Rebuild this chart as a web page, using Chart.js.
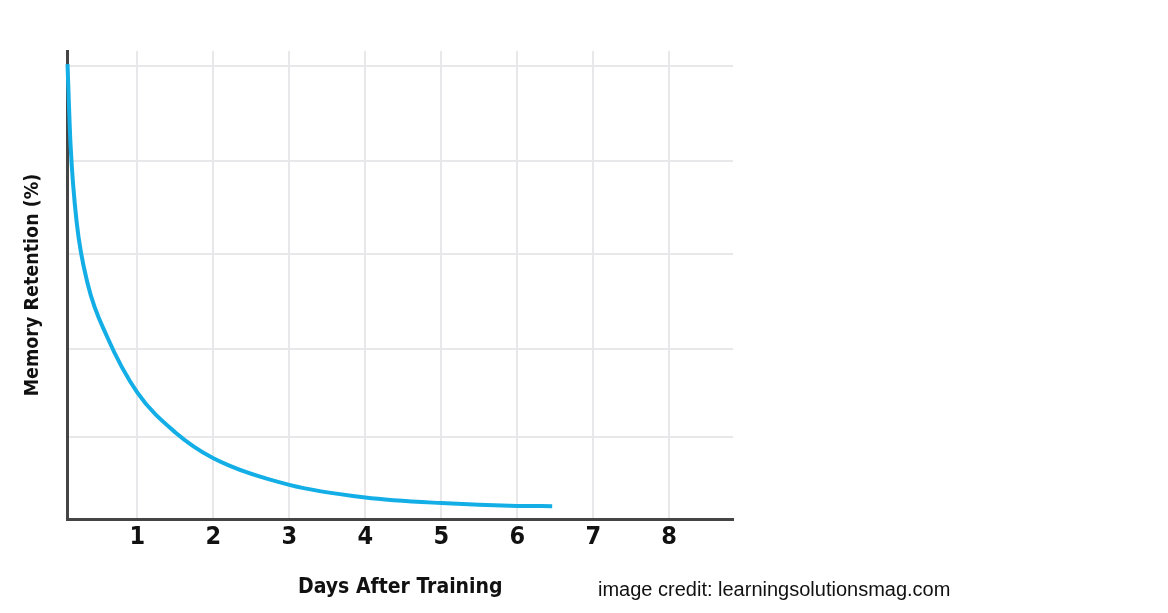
<!DOCTYPE html>
<html>
<head>
<meta charset="utf-8">
<script src="https://cdn.jsdelivr.net/npm/chart.js@4"></script>
<style>
	body { margin: 0; background: #fff; }
	#wrap { position: relative; width: 1168px; height: 613px; }
	#credit {
		position: absolute;
		left: 598px;
		top: 579px;
		font: 20px "Liberation Sans", Arial, sans-serif;
		line-height: 1;
		color: #111;
		white-space: nowrap;
	}
</style>
</head>
<body>
<div id="wrap">
	<canvas id="curveChart" width="1168" height="613"></canvas>
	<div id="credit">image credit: learningsolutionsmag.com</div>
</div>
<script>
// Forgetting curve
const days = [0.08, 0.12, 0.2, 0.35, 0.6, 1.0, 1.5, 2.0, 3.0, 4.0, 5.0, 6.0, 6.46]
const retention = [97.2, 80, 63.5, 50, 39, 27, 18.5, 13.0, 7.3, 4.6, 3.4, 2.8, 2.75]
const dayTicks = [1, 2, 3, 4, 5, 6, 7, 8]
const retentionGrid = [17.5, 36.3, 56.6, 76.5, 96.8]

const condensed = '"Liberation Sans Narrow", "DejaVu Sans Condensed", "Roboto Condensed", sans-serif'
const gridColor = "#e8e8ea"
const axisColor = "#454545"

document.addEventListener("DOMContentLoaded", function () {
	const ctx = document.getElementById("curveChart").getContext("2d")
	new Chart(ctx, {
		type: "line",
		data: {
			datasets: [
				{
					data: days.map((d, i) => ({ x: d, y: retention[i] })),
					borderColor: "#14aee6",
					borderWidth: 4,
					pointRadius: 0,
					fill: false,
					cubicInterpolationMode: "monotone",
					clip: false,
				},
			],
		},
		options: {
			responsive: false,
			animation: false,
			layout: {
				padding: { left: 10, top: 51, right: 435, bottom: 4 },
			},
			plugins: {
				legend: { display: false },
				tooltip: { enabled: false },
			},
			scales: {
				x: {
					type: "linear",
					min: 0.08,
					max: 8.84,
					afterBuildTicks: (scale) => {
						scale.ticks = dayTicks.map((v) => ({ value: v }))
					},
					grid: { color: gridColor, lineWidth: 2, drawTicks: false },
					border: { color: axisColor, width: 3 },
					ticks: {
						padding: 6,
						color: "#111",
						font: { family: condensed, size: 25, weight: "bold", lineHeight: 1 },
					},
					title: {
						display: true,
						text: "Days After Training",
						color: "#111",
						padding: { top: 21, bottom: 11 },
						font: { family: condensed, size: 21, weight: "bold", lineHeight: 1 },
					},
				},
				y: {
					min: 0,
					max: 100,
					afterBuildTicks: (scale) => {
						scale.ticks = retentionGrid.map((v) => ({ value: v }))
					},
					grid: { color: gridColor, lineWidth: 2, drawTicks: false },
					border: { color: axisColor, width: 3 },
					ticks: { display: false },
					title: {
						display: true,
						text: "Memory Retention (%)",
						color: "#111",
						padding: { top: 13, bottom: 25 },
						font: { family: condensed, size: 19.5, weight: "bold", lineHeight: 1 },
					},
				},
			},
		},
	})
})
</script>
</body>
</html>
